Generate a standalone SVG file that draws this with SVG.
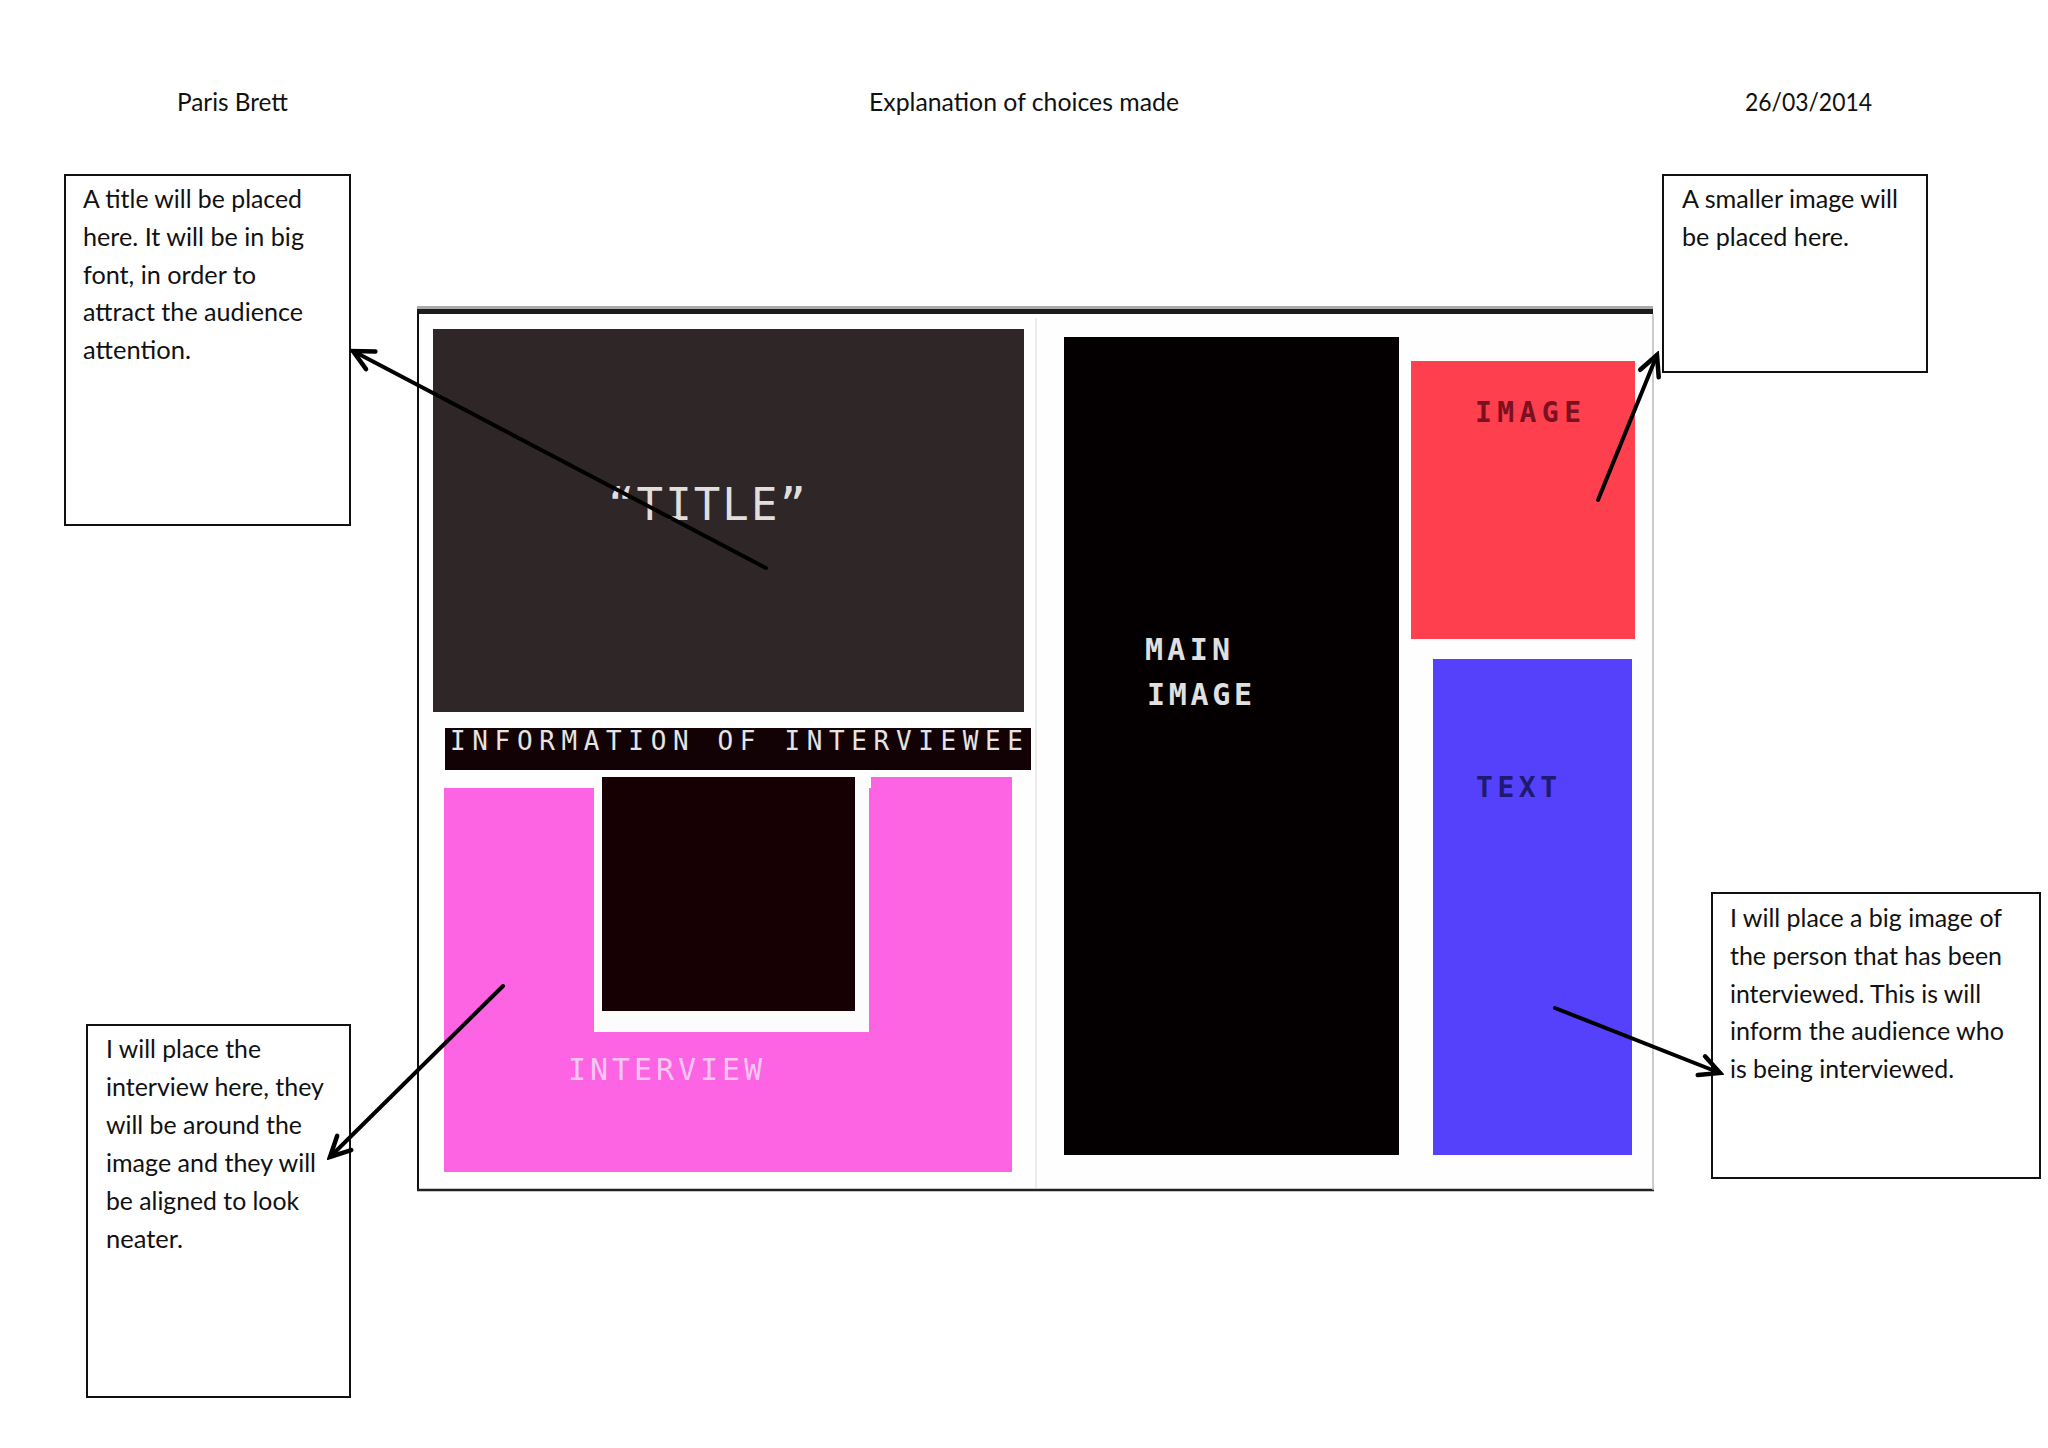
<svg xmlns="http://www.w3.org/2000/svg" width="2048" height="1448" viewBox="0 0 2048 1448">
<style>
.hd{font-family:Lato,"Open Sans","Liberation Sans",sans-serif;font-size:25px;fill:#111;}
.bt{font-family:Lato,"Open Sans","Liberation Sans",sans-serif;font-size:25px;fill:#111;}
.box{fill:#fff;stroke:#111;stroke-width:2;}
.mono{font-family:"DejaVu Sans Mono","Liberation Mono",monospace;}
.arr{stroke:#000;stroke-width:4;fill:none;stroke-linecap:round;marker-end:url(#ah);}
</style>
<defs>
<marker id="ah" markerUnits="userSpaceOnUse" viewBox="-26 -14 30 28" markerWidth="30" markerHeight="28" refX="0" refY="0" orient="auto">
<path d="M-20,-10 L0,0 L-20,10" fill="none" stroke="#000" stroke-width="4.5" stroke-linecap="round" stroke-linejoin="miter"/>
</marker>
</defs>
<rect width="2048" height="1448" fill="#fff"/>

<g id="header">
<text class="hd" x="177" y="111" textLength="111" lengthAdjust="spacingAndGlyphs">Paris Brett</text>
<text class="hd" x="869" y="111" textLength="310" lengthAdjust="spacingAndGlyphs">Explanation of choices made</text>
<text class="hd" x="1745" y="111" textLength="127" lengthAdjust="spacingAndGlyphs">26/03/2014</text>
</g>

<g id="layout">
<rect x="417" y="311" width="1236" height="880" fill="#fefefe"/>
<rect x="417" y="306" width="1236" height="3" fill="#aaa"/>
<rect x="417" y="309" width="1236" height="5" fill="#1c1c1c"/>
<line x1="418" y1="311" x2="418" y2="1191" stroke="#111" stroke-width="2"/>
<line x1="417" y1="1190" x2="1654" y2="1190" stroke="#222" stroke-width="2.5"/>
<line x1="1653" y1="314" x2="1653" y2="1190" stroke="#bbb" stroke-width="1.5"/>
<line x1="1036" y1="318" x2="1036" y2="1188" stroke="#ececec" stroke-width="2"/>

<g id="title-block">
<rect x="433" y="329" width="591" height="383" fill="#2f2627"/>
<text class="mono" x="608" y="520" font-size="44" fill="#e2dede" textLength="198" lengthAdjust="spacing">“TITLE”</text>
</g>
<g id="info-bar">
<rect x="445" y="728" width="586" height="42" fill="#130205"/>
<text class="mono" x="450" y="750" font-size="26" fill="#e4e4e4" textLength="573" lengthAdjust="spacing">INFORMATION OF INTERVIEWEE</text>
</g>
<g id="interview-block">
<rect x="444" y="788" width="568" height="384" fill="#fc64e4"/>
<rect x="871" y="777" width="141" height="12" fill="#fc64e4"/>
<rect x="594" y="777" width="275" height="255" fill="#fcfcfc"/>
<rect x="602" y="777" width="253" height="234" fill="#160003"/>
<text class="mono" x="568" y="1080" font-size="30" fill="#f9c6f1" textLength="194" lengthAdjust="spacing">INTERVIEW</text>
</g>
<g id="main-image">
<rect x="1064" y="337" width="335" height="818" fill="#040002"/>
<text class="mono" x="1145" y="660" font-size="30" font-weight="bold" fill="#e0e0e0" textLength="85" lengthAdjust="spacing">MAIN</text>
<text class="mono" x="1147" y="705" font-size="30" font-weight="bold" fill="#e0e0e0" textLength="105" lengthAdjust="spacing">IMAGE</text>
</g>
<g id="small-image">
<rect x="1411" y="361" width="224" height="278" fill="#fd3f4e"/>
<text class="mono" x="1475" y="422" font-size="28" font-weight="bold" fill="#7a1020" textLength="106" lengthAdjust="spacing">IMAGE</text>
</g>
<g id="text-block">
<rect x="1433" y="659" width="199" height="496" fill="#5540fc"/>
<text class="mono" x="1476" y="797" font-size="28" font-weight="bold" fill="#1e1a70" textLength="81" lengthAdjust="spacing">TEXT</text>
</g>
</g>

<g id="note-title">
<rect class="box" x="65" y="175" width="285" height="350"/>
<text class="bt" x="83" y="208" textLength="219" lengthAdjust="spacingAndGlyphs">A title will be placed</text>
<text class="bt" x="83" y="246" textLength="221" lengthAdjust="spacingAndGlyphs">here. It will be in big</text>
<text class="bt" x="83" y="284" textLength="173" lengthAdjust="spacingAndGlyphs">font, in order to</text>
<text class="bt" x="83" y="321" textLength="220" lengthAdjust="spacingAndGlyphs">attract the audience</text>
<text class="bt" x="83" y="359" textLength="108" lengthAdjust="spacingAndGlyphs">attention.</text>
</g>

<g id="note-image">
<rect class="box" x="1663" y="175" width="264" height="197"/>
<text class="bt" x="1682" y="208" textLength="216" lengthAdjust="spacingAndGlyphs">A smaller image will</text>
<text class="bt" x="1682" y="246" textLength="167" lengthAdjust="spacingAndGlyphs">be placed here.</text>
</g>

<g id="note-interview">
<rect class="box" x="87" y="1025" width="263" height="372"/>
<text class="bt" x="106" y="1058" textLength="155" lengthAdjust="spacingAndGlyphs">I will place the</text>
<text class="bt" x="106" y="1096" textLength="218" lengthAdjust="spacingAndGlyphs">interview here, they</text>
<text class="bt" x="106" y="1134" textLength="196" lengthAdjust="spacingAndGlyphs">will be around the</text>
<text class="bt" x="106" y="1172" textLength="210" lengthAdjust="spacingAndGlyphs">image and they will</text>
<text class="bt" x="106" y="1210" textLength="193" lengthAdjust="spacingAndGlyphs">be aligned to look</text>
<text class="bt" x="106" y="1248" textLength="77" lengthAdjust="spacingAndGlyphs">neater.</text>
</g>

<g id="note-main">
<rect class="box" x="1712" y="893" width="328" height="285"/>
<text class="bt" x="1730" y="927" textLength="272" lengthAdjust="spacingAndGlyphs">I will place a big image of</text>
<text class="bt" x="1730" y="965" textLength="272" lengthAdjust="spacingAndGlyphs">the person that has been</text>
<text class="bt" x="1730" y="1003" textLength="251" lengthAdjust="spacingAndGlyphs">interviewed. This is will</text>
<text class="bt" x="1730" y="1040" textLength="274" lengthAdjust="spacingAndGlyphs">inform the audience who</text>
<text class="bt" x="1730" y="1078" textLength="224" lengthAdjust="spacingAndGlyphs">is being interviewed.</text>
</g>

<g id="connectors">
<line class="arr" x1="766" y1="568" x2="353" y2="351"/>
<line class="arr" x1="1598" y1="500" x2="1657" y2="355"/>
<line class="arr" x1="503" y1="986" x2="330" y2="1157"/>
<line class="arr" x1="1555" y1="1008" x2="1720" y2="1073"/>
</g>
</svg>
